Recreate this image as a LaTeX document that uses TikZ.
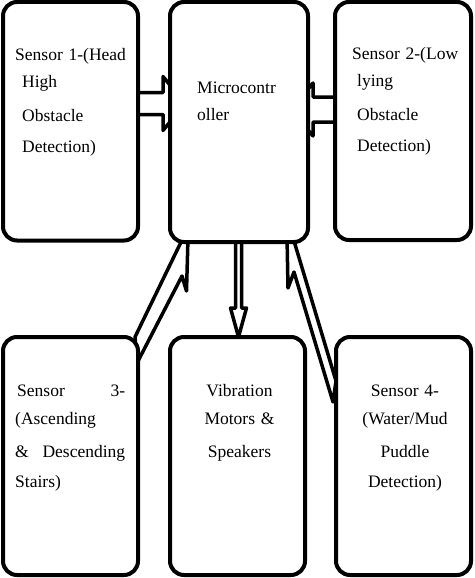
\documentclass[tikz,border=0pt]{standalone}
\usepackage{fontspec}
\setmainfont{Liberation Serif}
\usetikzlibrary{calc,backgrounds}
\begin{document}
\begin{tikzpicture}[x=1pt,y=-1pt,
  box/.style={draw, line width=4pt, rounded corners=14pt, fill=white, outer sep=0pt, inner sep=0pt},
  arr/.style={draw, line width=3.5pt, fill=white, line join=round},
  ltxt/.style={inner sep=0pt, font=\fontsize{17.5}{30}\selectfont, align=left, anchor=base west},
  ctxt/.style={inner sep=0pt, font=\fontsize{17.5}{30}\selectfont, align=center, anchor=base}]
\useasboundingbox (0,0) rectangle (474,578);
% boxes
\node[box, minimum width=135pt, minimum height=238.5pt] (s1) at (70.5,121.25) {};
\node[box, minimum width=138pt, minimum height=240pt] (mc) at (239,122) {};
\node[box, minimum width=136pt, minimum height=238pt] (s2) at (403,121) {};
\node[box, minimum width=135pt, minimum height=238pt] (s3) at (70.5,456) {};
\node[box, minimum width=135pt, minimum height=238pt] (vib) at (237.5,456) {};
\node[box, minimum width=135pt, minimum height=238pt] (s4) at (403.5,456) {};
% texts
\node[ltxt, text width=125pt] (t1) at (15,60) {Sensor 1-(Head\\[-3pt]\hspace*{7pt}High\\[4pt]\hspace*{7pt}Obstacle\\[1pt]\hspace*{7pt}Detection)};
\node[ltxt, text width=105pt] (t2) at (197,93) {Microcontr\\[-3pt]oller};
\node[ltxt, text width=115pt] (t3) at (352,59.5) {Sensor 2-(Low\\[-3pt]\hspace*{5pt}lying\\[4pt]\hspace*{5pt}Obstacle\\[1pt]\hspace*{5pt}Detection)};
\node[ltxt, text width=118pt] (t4) at (15,396) {\leavevmode\hspace*{2pt}\hbox to 108pt{Sensor\hfill 3-}\\[-2pt](Ascending\\[3pt]\leavevmode\hbox to 110pt{\&\hfill Descending}\\[0pt]Stairs)};
\node[ctxt, text width=120pt] (t5) at (239.5,396) {Vibration\\[-2pt]Motors \&\\[3pt]Speakers};
\node[ctxt, text width=120pt] (t6) at (405,396) {Sensor 4-\\[-2pt](Water/Mud\\[3pt]Puddle\\[0pt]Detection)};
% block arrows
\begin{scope}[on background layer]
\draw[arr] ($(s1.north east)+(-15,90.5)$) -- ($(mc.north west)+(-7,90.5)$) -- ($(mc.north west)+(-7,74.5)$) -- ($(mc.north west)+(15,101.5)$) -- ($(mc.north west)+(-7,128.5)$) -- ($(mc.north west)+(-7,112.5)$) -- ($(s1.north east)+(-15,112.5)$) -- cycle;
\draw[arr] ($(s2.north west)+(15,95)$) -- ($(mc.north east)+(5,95)$) -- ($(mc.north east)+(5,81)$) -- ($(mc.north east)+(-17,107.5)$) -- ($(mc.north east)+(5,134)$) -- ($(mc.north east)+(5,120)$) -- ($(s2.north west)+(15,120)$) -- cycle;
\draw[arr] ($(mc.south)+(-3.5,-20)$) -- ($(vib.north)+(-2,-29)$) -- ($(vib.north)+(-7,-29)$) -- ($(vib.north)+(1,0)$) -- ($(vib.north)+(9,-29)$) -- ($(vib.north)+(4,-29)$) -- ($(mc.south)+(2.5,-20)$) -- cycle;
\draw[arr] ($(s3.north east)+(-3,0)$) -- ($(mc.south west)+(13,-4)$) -- ($(mc.south west)+(18,-4)$) -- ($(mc.south west)+(16.5,49)$) -- ($(mc.south west)+(12,34)$) -- ($(s3.north east)+(-1,26)$) -- cycle;
\draw[arr] ($(s4.north west)+(-3,65)$) -- ($(mc.south east)+(-14,30)$) -- ($(mc.south east)+(-20,46)$) -- ($(mc.south east)+(-21,-6)$) -- ($(mc.south east)+(-15.5,-6)$) -- ($(s4.north west)+(0,44)$) -- cycle;
\end{scope}
\end{tikzpicture}
\end{document}
